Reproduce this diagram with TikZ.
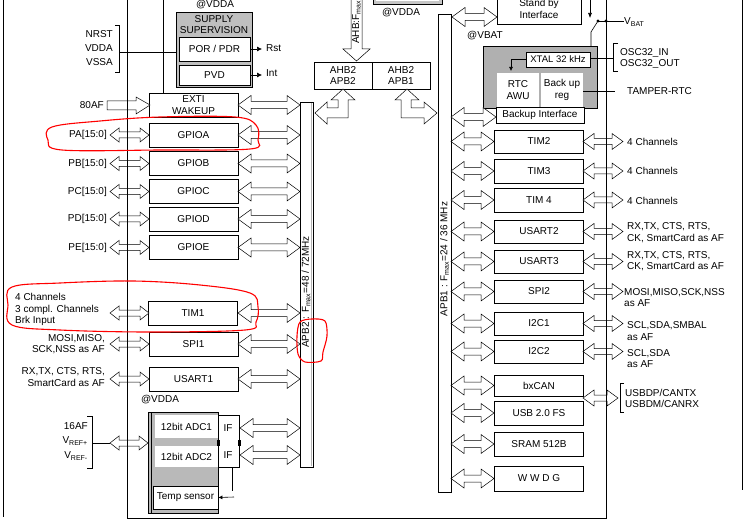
\documentclass[tikz,border=0pt]{standalone}
\usepackage{fontspec}
\setmainfont{Liberation Sans}
\usetikzlibrary{arrows.meta}
\newcommand\dbarrow[6]{%
\draw[barrow] (#1,#3) -- ({#1+#4},{#3-#5}) -- ({#1+#4},{#3-#6}) -- ({#2-#4},{#3-#6}) -- ({#2-#4},{#3-#5}) -- (#2,#3) -- ({#2-#4},{#3+#5}) -- ({#2-#4},{#3+#6}) -- ({#1+#4},{#3+#6}) -- ({#1+#4},{#3+#5}) -- cycle;}
\newcommand\pinarr[3]{\dbarrow{#1}{#2}{#3}{9}{7}{3}}
\newcommand\rpinarr[3]{\dbarrow{#1}{#2}{#3}{11}{8}{3}}
\newcommand\busarr[3]{\dbarrow{#1}{#2}{#3}{13}{9.5}{3.5}}
\begin{document}
\begin{tikzpicture}[x=1pt,y=-1pt,
  font=\fontsize{10}{11.5}\selectfont,
  box/.style={draw, fill=white, line width=0.6pt, inner sep=0pt, align=center},
  lbl/.style={inner sep=0pt, align=left},
  barrow/.style={draw, fill=white, line width=0.5pt, line join=miter},
  ln/.style={line width=0.6pt},
  redmark/.style={draw=red, line width=1.1pt},
  tip/.style={-{Latex[length=5pt,width=5pt]}},
]
\useasboundingbox (0,0) rectangle (744,521);

% page borders
\draw[ln] (3,-5) -- (3,517);
\draw[ln] (742,-5) -- (742,490);

% ---------- buses ----------
\node[draw, fill=white, line width=0.6pt, minimum width=13pt, minimum height=365pt, inner sep=0] (apb2) at (306.5,284.5) {};
\draw[gray!60, line width=0.8pt] (311.5,103) -- (311.5,466);
\node[rotate=90] at (306,292) {APB2 : F\textsubscript{max}=48 / 72MHz};
\node[draw, fill=white, line width=0.6pt, minimum width=13pt, minimum height=478pt, inner sep=0] (apb1) at (444.5,253) {};
\node[rotate=90] at (444.5,259) {APB1 : F\textsubscript{max}=24 / 36 MHz};

% ---------- top centre ----------
\draw[ln, fill=gray!45] (373,-10) rectangle (442,4);
\draw[fill=white, draw=none] (376,-10) rectangle (439,1);
\node at (401,13) {@VDDA};
\node at (215,4.5) {@VDDA};

\draw[barrow] (351,-5) -- (351,49) -- (343,49) -- (356.5,61) -- (370,49) -- (362,49) -- (362,-5) -- cycle;
\node[rotate=90, anchor=west, inner sep=0] at (356.5,44) {AHB:F\textsubscript{max}};

\node[box, minimum width=58pt, minimum height=27pt] (ahbapb2) at (343,75.5) {AHB2\\APB2};
\node[box, minimum width=58pt, minimum height=27pt] (ahbapb1) at (401,75.5) {AHB2\\APB1};

\draw[barrow] (315,113) -- (327,102) -- (327,108) -- (338,108) -- (338,100) -- (331,100) -- (343,89) -- (355,100) -- (348,100) -- (348,118) -- (327,118) -- (327,124) -- cycle;
\draw[barrow] (407,89) -- (419,100) -- (411,100) -- (411,108) -- (424,108) -- (424,102) -- (437,113) -- (424,124) -- (424,118) -- (401,118) -- (401,100) -- (395,100) -- cycle;

% ---------- supply supervision ----------
\node[draw, fill=gray!50, line width=0.8pt, minimum width=76pt, minimum height=75pt, inner sep=0] (supply) at (214,49.5) {};
\node[align=center, inner sep=0] at (214,24.5) {SUPPLY\\SUPERVISION};
\node[box, line width=0.9pt, minimum width=71pt, minimum height=24pt] (por) at (214.5,49) {POR / PDR};
\node[box, line width=0.9pt, minimum width=71pt, minimum height=20pt] (pvd) at (214.5,75) {PVD};
\node[lbl, anchor=west] (rst) at (266,48) {Rst};
\node[lbl, anchor=west] (int) at (266,73) {Int};
\draw[ln, tip] (por.east) -- (262,49);
\draw[ln, tip] (pvd.east) -- (262,75);

\node[lbl, anchor=east] (nrst) at (113,34) {NRST};
\node[lbl, anchor=east] (vdda) at (113,48) {VDDA};
\node[lbl, anchor=east] (vssa) at (113,62) {VSSA};
\draw[ln] (115,25) -- (119,25) -- (119,72) -- (115,72);
\coordinate (brk1) at (119,52);
\draw[ln] (brk1) -- (brk1 -| supply.west);

% ---------- left column ----------
\node[box, minimum width=89pt, minimum height=24pt] (exti) at (193.5,105) {EXTI\\WAKEUP};
\draw[ln] (163,-5) -- (exti.north -| 163,0);
\node[box, minimum width=89pt, minimum height=24pt] (gpioa) at (193.5,135) {GPIOA};
\node[box, minimum width=89pt, minimum height=24pt] (gpiob) at (193.5,163.5) {GPIOB};
\node[box, minimum width=89pt, minimum height=24pt] (gpioc) at (193.5,191.5) {GPIOC};
\node[box, minimum width=89pt, minimum height=24pt] (gpiod) at (193.5,219) {GPIOD};
\node[box, minimum width=89pt, minimum height=24pt] (gpioe) at (193.5,247.5) {GPIOE};
\node[box, minimum width=89pt, minimum height=24pt] (tim1) at (193,313) {TIM1};
\node[box, minimum width=89pt, minimum height=24pt] (spi1) at (193.5,344) {SPI1};
\node[box, minimum width=89pt, minimum height=24pt] (usart1) at (193.5,379) {USART1};

\node[lbl, anchor=east] at (104,105) {80AF};
\draw[barrow] (107,101) -- (136,101) -- (136,97) -- (150,105) -- (136,114) -- (136,110) -- (107,110) -- cycle;

\node[lbl, anchor=east] at (107,135) {PA[15:0]};
\node[lbl, anchor=east] at (107,163.5) {PB[15:0]};
\node[lbl, anchor=east] at (107,191.5) {PC[15:0]};
\node[lbl, anchor=east] at (107,219) {PD[15:0]};
\node[lbl, anchor=east] at (107,247.5) {PE[15:0]};
\node[lbl, anchor=west] at (15,309.5) {4 Channels\\3 compl. Channels\\Brk Input};
\node[lbl, anchor=east, align=right] at (105,344) {MOSI,MISO,\\SCK,NSS as AF};
\node[lbl, anchor=east, align=right] at (105,377) {RX,TX, CTS, RTS,\\SmartCard as AF};

\foreach \yy in {135,163.5,191.5,219,247.5,313,344,379} {\pinarr{110}{149}{\yy}}
\foreach \yy in {105,135,163.5,191.5,219,247.5,313,344,379} {\busarr{238}{300}{\yy}}

% ---------- ADC ----------
\node at (160,400) {@VDDA};
\node[draw, fill=gray!55, line width=0.8pt, minimum width=70pt, minimum height=101pt, inner sep=0] (adcfr) at (183,462.5) {};
\draw[ln] (151,412) -- (151,513);
\node[box, draw=none, minimum width=63pt, minimum height=23pt] (adc1) at (186.5,426.5) {12bit ADC1};
\node[box, draw=none, minimum width=63pt, minimum height=21pt] (adc2) at (186.5,456.5) {12bit ADC2};
\node[box, minimum width=21pt, minimum height=52pt] (ifc) at (228.5,441) {};
\node at (228,428) {IF};
\node at (228,455) {IF};
\fill (217,440) rectangle (220,446);
\fill (237.5,440) rectangle (240.5,446);
\node[box, line width=0.8pt, minimum width=65pt, minimum height=23pt] (temp) at (185.5,497.5) {Temp sensor};
\draw[ln] (232,467) -- (232,491);
\draw[ln, -{Latex[length=4pt,width=4pt]}] (234,497) -- (temp.east);

\node[lbl, anchor=east] at (88,426) {16AF};
\node[lbl, anchor=east] at (88,441) {V\textsubscript{REF+}};
\node[lbl, anchor=east] at (88,456) {V\textsubscript{REF-}};
\draw[ln] (87,416) -- (92,416) -- (92,468) -- (87,468);
\draw[ln] (92,443) -- (110,443);
\pinarr{110}{148}{443}
\busarr{240}{300}{428}
\busarr{240}{300}{455}

% ---------- backup domain ----------
\node[box, minimum width=84pt, minimum height=30pt] (stby) at (539,9) {Stand by\\Interface};
\node at (485,36) {@VBAT};
\node[draw, fill=gray!62, line width=0.8pt, minimum width=114pt, minimum height=62pt, inner sep=0] (bkdom) at (540,77) {};
\node[box, minimum width=64pt, minimum height=15pt, font=\fontsize{9.5}{11}\selectfont] (xtal) at (558,59.5) {XTAL 32 kHz};
\node[fill=white, minimum width=42pt, minimum height=34pt, inner sep=0, align=center] (rtc) at (518,90) {RTC\\AWU};
\node[fill=white, minimum width=42pt, minimum height=34pt, inner sep=0, align=center] (bkreg) at (562,90) {Back up\\reg};
\node[box, minimum width=88pt, minimum height=16pt] (bkif) at (540,115) {Backup Interface};
\draw[ln, -{Latex[length=4pt,width=4pt]}] (xtal.west) -- (511,59.5) -- (511,71);

\draw[ln, -{Latex[length=5pt,width=4pt]}] (590,-5) -- (590,18);
\draw[ln] (591,47) -- (591,32) -- (598,21);
\fill (598,21) circle (1.6);
\fill (606,21) circle (1.6);
\node[lbl, anchor=west] (vbat) at (624,22) {V\textsubscript{BAT}};
\draw[ln] (598,21) -- (vbat.west |- 0,21);

\draw[ln] (xtal.east |- 0,58) -- (613,58);
\draw[ln] (618,43) -- (613,43) -- (613,71) -- (618,71);
\node[lbl, anchor=west] at (620,53) {OSC32\_IN};
\node[lbl, anchor=west] at (620,64) {OSC32\_OUT};
\node[lbl, anchor=west] (tamper) at (627,91) {TAMPER-RTC};
\draw[ln] (bkreg.east |- 0,91) -- (615,91);

% ---------- right column ----------
\node[box, minimum width=89pt, minimum height=23pt] (tim2) at (539,141.5) {TIM2};
\node[box, minimum width=89pt, minimum height=24pt] (tim3) at (539,171) {TIM3};
\node[box, minimum width=89pt, minimum height=24pt] (tim4) at (539,200) {TIM 4};
\node[box, minimum width=89pt, minimum height=23pt] (usart2) at (539,231.5) {USART2};
\node[box, minimum width=89pt, minimum height=23pt] (usart3) at (539,261.5) {USART3};
\node[box, minimum width=89pt, minimum height=23pt] (spi2) at (539,291.5) {SPI2};
\node[box, minimum width=89pt, minimum height=23pt] (i2c1) at (539,323.5) {I2C1};
\node[box, minimum width=89pt, minimum height=23pt] (i2c2) at (539,351.5) {I2C2};
\node[box, minimum width=89pt, minimum height=21pt] (bxcan) at (539,385.5) {bxCAN};
\node[box, minimum width=89pt, minimum height=24pt] (usb) at (539,413) {USB 2.0 FS};
\node[box, minimum width=89pt, minimum height=24pt] (sram) at (539,444) {SRAM 512B};
\node[box, minimum width=89pt, minimum height=25pt] (wwdg) at (539,478.5) {W W D G};

\busarr{452}{497}{17}
\busarr{451}{496}{117}
\foreach \yy in {141.5,171,200,231.5,261.5,291.5,323.5,351.5,385.5,413,444,478.5} {\busarr{451}{494}{\yy}}
\foreach \yy in {141.5,171,200,231.5,261.5,291.5,323.5,351.5} {\rpinarr{583}{623}{\yy}}
\rpinarr{583}{618}{398}

\node[lbl, anchor=west] at (627,142) {4 Channels};
\node[lbl, anchor=west] at (627,171) {4 Channels};
\node[lbl, anchor=west] at (627,201) {4 Channels};
\node[lbl, anchor=west] at (627,232.5) {RX,TX, CTS, RTS,\\CK, SmartCard as AF};
\node[lbl, anchor=west] at (627,261) {RX,TX, CTS, RTS,\\CK, SmartCard as AF};
\node[lbl, anchor=west] at (624,297.5) {MOSI,MISO,SCK,NSS\\as AF};
\node[lbl, anchor=west] at (627,331) {SCL,SDA,SMBAL\\as AF};
\node[lbl, anchor=west] at (627,358.5) {SCL,SDA\\as AF};
\draw[ln] (624,383) -- (620,383) -- (620,412) -- (624,412);
\node[lbl, anchor=west] at (625,398.5) {USBDP/CANTX\\USBDM/CANRX};

% ---------- chip frame ----------
\draw[ln] (127,-5) -- (127,518) -- (606,518) -- (606,-5);

% ---------- red annotations ----------
\draw[redmark] plot[smooth cycle, tension=0.6] coordinates {(52,127) (100,121) (160,117) (235,117) (256,125) (258,140) (250,149) (160,150) (62,150) (48,140)};
\draw[redmark] plot[smooth cycle, tension=0.6] coordinates {(12,287) (60,283) (133,281) (200,285) (250,293) (258,307) (256,322) (245,330) (150,332) (60,330) (12,325) (8,305)};
\draw[redmark] plot[smooth cycle, tension=0.5] coordinates {(300,322) (312,319) (325,321) (327,336) (323,352) (321,361) (305,362) (298,354) (297,336)};
\end{tikzpicture}
\end{document}
